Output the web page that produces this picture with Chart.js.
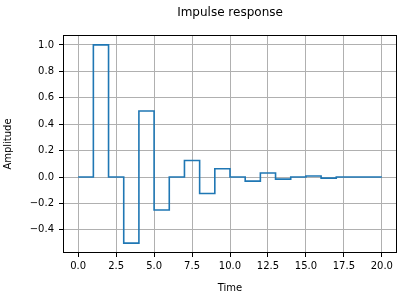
<!DOCTYPE html>
<html>
<head>
<meta charset="utf-8">
<script src="https://cdn.jsdelivr.net/npm/chart.js@4"></script>
<style>
html,body{margin:0;padding:0;background:#fff;}
canvas{display:block;}
</style>
</head>
<body>
<canvas id="c" width="411" height="301"></canvas>
<script>
const timeSteps = [0,1,2,3,4,5,6,7,8,9,10,11,12,13,14,15,16,17,18,19,20];
const amplitude = [0,1,0,-0.5,0.5,-0.25,0,0.125,-0.125,0.0625,0,-0.031,0.031,-0.016,0,0.008,-0.008,0,0,0,0];
const xTicks = [0,2.5,5,7.5,10,12.5,15,17.5,20];
const yTicks = [-0.4,-0.2,0,0.2,0.4,0.6,0.8,1.0];
const chartTitle = 'Impulse response';
const xLabel = 'Time';
const yLabel = 'Amplitude';

const fmt = v => (v < 0 ? '\u2212' : '') + Math.abs(v).toFixed(1);
const FONT = 'DejaVu Sans';

const frame = {
  id: 'frame',
  afterLayout(chart) {
    // centre the title over the plotting area, as matplotlib does
    if (chart.titleBlock) {
      chart.titleBlock.left = chart.chartArea.left;
      chart.titleBlock.right = chart.chartArea.right;
    }
  },
  afterDatasetsDraw(chart) {
    const {ctx, chartArea: a} = chart;
    ctx.save();
    ctx.strokeStyle = '#000';
    ctx.lineWidth = 1;
    ctx.strokeRect(Math.round(a.left) + 0.5, Math.round(a.top) + 0.5, Math.round(a.right - a.left) - 1, Math.round(a.bottom - a.top) - 1);
    ctx.restore();
  }
};

new Chart(document.getElementById('c'), {
  type: 'line',
  data: {
    datasets: [{
      data: timeSteps.map((t, i) => ({x: t, y: amplitude[i]})),
      borderColor: '#1f77b4',
      borderWidth: 1.6,
      pointRadius: 0,
      stepped: 'before',
      fill: false,
      tension: 0
    }]
  },
  options: {
    responsive: false,
    animation: false,
    events: [],
    layout: {padding: {top: 6, right: 14, left: 0, bottom: 0}},
    plugins: {
      legend: {display: false},
      tooltip: {enabled: false},
      title: {
        display: true,
        text: chartTitle,
        color: '#000',
        font: {family: FONT, size: 12, weight: 'normal'},
        padding: {top: 0, bottom: 14.6}
      }
    },
    scales: {
      x: {
        type: 'linear',
        min: -1, max: 21,
        afterBuildTicks: s => { s.ticks = xTicks.map(v => ({value: v})); },
        afterFit: s => { s.height = 48; },
        ticks: {
          callback: v => fmt(v),
          color: '#000',
          font: {family: FONT, size: 10},
          padding: 3,
          maxRotation: 0,
          autoSkip: false
        },
        grid: {color: '#b0b0b0', tickColor: '#000', tickLength: 4, lineWidth: 1},
        border: {display: false},
        title: {display: true, text: xLabel, color: '#000', font: {family: FONT, size: 10}, padding: {top: 0, bottom: 7}}
      },
      y: {
        type: 'linear',
        min: -0.575, max: 1.075,
        afterBuildTicks: s => { s.ticks = yTicks.map(v => ({value: v})); },
        afterFit: s => { s.width = 63; },
        ticks: {
          callback: v => fmt(v),
          color: '#000',
          font: {family: FONT, size: 10},
          padding: 5,
          autoSkip: false
        },
        grid: {color: '#b0b0b0', tickColor: '#000', tickLength: 4, lineWidth: 1},
        border: {display: false},
        title: {display: true, text: yLabel, color: '#000', font: {family: FONT, size: 10}, padding: {top: 2, bottom: 0}}
      }
    }
  },
  plugins: [frame]
});
</script>
</body>
</html>
